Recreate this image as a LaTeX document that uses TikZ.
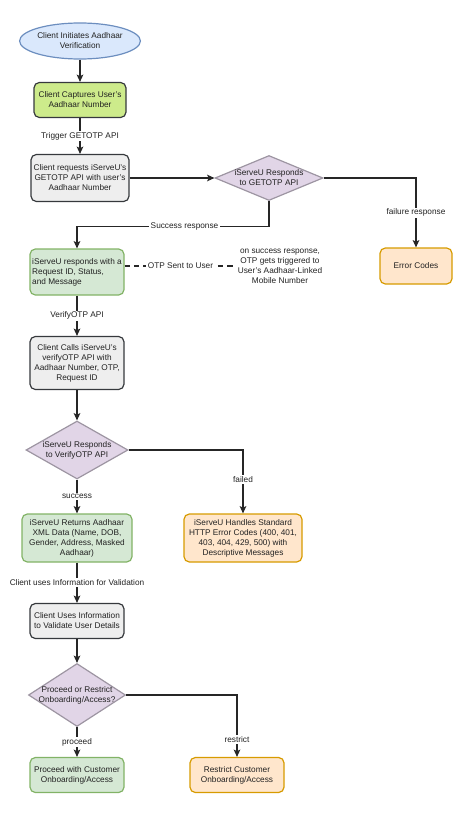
\documentclass[tikz,border=0pt]{standalone}
\usepackage{fontspec}
\setmainfont{Liberation Sans}
\usetikzlibrary{shapes.geometric,arrows.meta}
\definecolor{ink}{HTML}{222222}
\definecolor{dark}{HTML}{36393D}
\begin{document}
\begin{tikzpicture}[x=0.75pt,y=-0.75pt,
    font=\fontsize{6.2}{7.5}\selectfont, text=ink,
    box/.style={draw=dark,line width=0.9pt,rounded corners=4pt,align=center,inner sep=1pt},
    choice/.style={diamond,draw=#1!70!black,fill=#1,line width=0.9pt,align=center,inner sep=0pt},
    arr/.style={-{Stealth[length=5.5pt,width=5pt,inset=1.2pt]},line width=0.9pt,draw=black!85},
    lbl/.style={fill=white,inner sep=1pt}]
    \useasboundingbox (0,0) rectangle (474,817);
    \definecolor{lilac}{HTML}{E1D5E7}
    % nodes
    \node[ellipse,draw={rgb,255:red,108;green,142;blue,191},fill={rgb,255:red,218;green,232;blue,252},line width=0.9pt,
        minimum width=75pt,minimum height=27pt,inner sep=0pt,align=center] (start) at (80,41) {Client Initiates Aadhaar\\Verification};
    \node[box,fill={rgb,255:red,205;green,235;blue,139},minimum width=69pt,minimum height=26.25pt] (capture) at (80,100) {Client Captures User's\\Aadhaar Number};
    \node[box,fill={rgb,255:red,238;green,238;blue,238},minimum width=73.5pt,minimum height=35.25pt] (request) at (80,178) {Client requests iServeU's\\GETOTP API with user's\\Aadhaar Number};
    \node[choice=lilac,aspect=2.4,minimum width=81pt,minimum height=33.75pt] (resp1) at (269,178) {iServeU Responds\\to GETOTP API};
    \node[box,draw={rgb,255:red,215;green,155;blue,0},fill={rgb,255:red,255;green,230;blue,204},minimum width=54pt,minimum height=27pt] (errors) at (416,266) {Error Codes};
    \node[box,draw={rgb,255:red,130;green,179;blue,102},fill={rgb,255:red,213;green,232;blue,212},minimum width=70.5pt,minimum height=34.5pt,align=left] (reply) at (77,272) {iServeU responds with a\\ Request ID, Status,\\and Message};
    \node[align=center,inner sep=1pt] (note) at (280,266) {on success response,\\OTP gets triggered to\\User's Aadhaar-Linked\\Mobile Number};
    \node[box,fill={rgb,255:red,238;green,238;blue,238},minimum width=70.5pt,minimum height=39.75pt] (verify) at (77,363) {Client Calls iServeU's\\verifyOTP API with\\Aadhaar Number, OTP,\\Request ID};
    \node[choice=lilac,aspect=1.76,minimum width=76.5pt,minimum height=43.5pt] (resp2) at (77,450) {iServeU Responds\\to VerifyOTP API};
    \node[box,draw={rgb,255:red,130;green,179;blue,102},fill={rgb,255:red,213;green,232;blue,212},minimum width=82.5pt,minimum height=36pt] (xml) at (77,538) {iServeU Returns Aadhaar\\XML Data (Name, DOB,\\Gender, Address, Masked\\Aadhaar)};
    \node[box,draw={rgb,255:red,215;green,155;blue,0},fill={rgb,255:red,255;green,230;blue,204},minimum width=88.5pt,minimum height=36pt] (handle) at (243,538) {iServeU Handles Standard\\HTTP Error Codes (400, 401,\\403, 404, 429, 500) with\\Descriptive Messages};
    \node[box,fill={rgb,255:red,238;green,238;blue,238},minimum width=70.5pt,minimum height=26.25pt] (validate) at (77,621) {Client Uses Information\\to Validate User Details};
    \node[choice=lilac,aspect=1.54,minimum width=72.75pt,minimum height=47.25pt,inner sep=-2pt] (decide) at (77,695) {Proceed or Restrict\\Onboarding/Access?};
    \node[box,draw={rgb,255:red,130;green,179;blue,102},fill={rgb,255:red,213;green,232;blue,212},minimum width=70.5pt,minimum height=26.25pt] (proceed) at (77,775) {Proceed with Customer\\Onboarding/Access};
    \node[box,draw={rgb,255:red,215;green,155;blue,0},fill={rgb,255:red,255;green,230;blue,204},minimum width=70.5pt,minimum height=26.25pt] (restrict) at (237,775) {Restrict Customer\\Onboarding/Access};
    % connectors
    \draw[arr] (start) -- (capture);
    \draw[arr] (capture) -- node[lbl]{Trigger GETOTP API} (request);
    \draw[arr] (request) -- (resp1);
    \draw[arr] (resp1.east) -| node[lbl,pos=0.75]{failure response} (errors);
    \draw[arr] (resp1.south) -- ++(0,25) -| node[lbl,pos=0.22]{Success response} (reply);
    \draw[dashed,dash pattern=on 4pt off 3pt,line width=0.9pt,black!85] (reply.east |- note.west) -- node[lbl]{OTP Sent to User} (note.west);
    \draw[arr] (reply) -- node[lbl]{VerifyOTP API} (verify);
    \draw[arr] (verify) -- (resp2);
    \draw[arr] (resp2.east) -| node[lbl,pos=0.73]{failed} (handle);
    \draw[arr] (resp2) -- node[lbl]{success} (xml);
    \draw[arr] (xml) -- node[lbl]{Client uses Information for Validation} (validate);
    \draw[arr] (validate) -- (decide);
    \draw[arr] (decide.east) -| node[lbl,pos=0.86]{restrict} (restrict);
    \draw[arr] (decide) -- node[lbl]{proceed} (proceed);
\end{tikzpicture}
\end{document}
